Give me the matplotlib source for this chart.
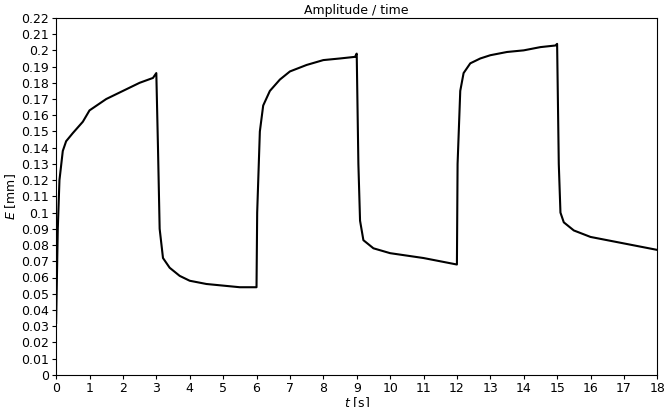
import matplotlib
matplotlib.use("Agg")
import matplotlib.pyplot as plt
import numpy as np

# amplitude readings (s, mm)
t = [0.0, 0.05, 0.1, 0.2, 0.3, 0.5, 0.8, 1.0, 1.5, 2.0, 2.5, 2.9, 3.0, 3.05, 3.1, 3.2, 3.4, 3.7, 4.0, 4.5, 5.0, 5.5, 6.0,
     6.02, 6.1, 6.2, 6.4, 6.7, 7.0, 7.5, 8.0, 8.5, 8.95, 9.0, 9.05, 9.1, 9.2, 9.5, 10.0, 11.0, 11.5, 12.0,
     12.02, 12.1, 12.2, 12.4, 12.7, 13.0, 13.5, 14.0, 14.5, 14.95, 15.0, 15.05, 15.1, 15.2, 15.5, 16.0, 16.5, 17.0, 17.5, 18.0]
amp = [0.032, 0.09, 0.12, 0.138, 0.144, 0.149, 0.156, 0.163, 0.170, 0.175, 0.180, 0.183, 0.186, 0.14, 0.09, 0.072, 0.066, 0.061, 0.058, 0.056, 0.055, 0.054, 0.054,
       0.10, 0.15, 0.166, 0.175, 0.182, 0.187, 0.191, 0.194, 0.195, 0.196, 0.198, 0.13, 0.095, 0.083, 0.078, 0.075, 0.072, 0.070, 0.068,
       0.13, 0.175, 0.186, 0.192, 0.195, 0.197, 0.199, 0.2, 0.202, 0.203, 0.204, 0.13, 0.10, 0.094, 0.089, 0.085, 0.083, 0.081, 0.079, 0.077]

fig = plt.figure(figsize=(6.68, 4.07), dpi=100)
ax = fig.add_axes([0.084, 0.079, 0.9, 0.877])
ax.plot(t, amp, color="black", lw=1.5)
ax.set_xlim(0, 18)
ax.set_ylim(0, 0.22)
ax.set_xticks(range(0, 19))
yt = np.round(np.arange(0, 0.2201, 0.01), 2)
ax.set_yticks(yt)
ax.set_yticklabels(["0" if v == 0 else f"{v:g}" for v in yt])
ax.tick_params(labelsize=9, length=3, pad=2)
ax.set_xlabel("$t$ [s]", fontsize=9, labelpad=0)
ax.set_ylabel("$E$ [mm]", fontsize=9, labelpad=2)
ax.set_title("Amplitude / time", fontsize=9, pad=3)
fig.savefig("out.png", dpi=100)
